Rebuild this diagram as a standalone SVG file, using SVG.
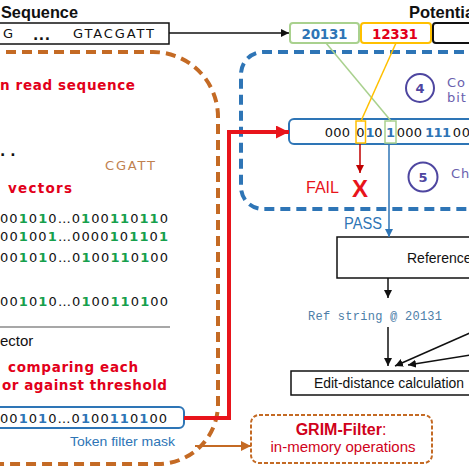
<svg xmlns="http://www.w3.org/2000/svg" width="469" height="469" viewBox="0 0 469 469">
<defs>
<style>
.sans{font-family:"Liberation Sans",Arial,sans-serif}
.dv{font-family:"DejaVu Sans",Verdana,sans-serif}
.mono{font-family:"Liberation Mono","Courier New",monospace}
.redb{font-family:"DejaVu Sans",Verdana,sans-serif;font-weight:bold;fill:#e2001a;font-size:13.5px}
.bits{font-family:"DejaVu Sans",Verdana,sans-serif;font-size:13px;fill:#111}
.g{fill:#16a04c;font-weight:bold}
.b{fill:#2e75b6;font-weight:bold}
.box{fill:#fff;stroke:#111;stroke-width:1.5}
.circ{fill:none;stroke:#4e46a0;stroke-width:2}
.num{font-family:"DejaVu Sans",Verdana,sans-serif;font-size:13px;font-weight:bold;fill:#4e46a0;text-anchor:middle}
.purple{font-family:"DejaVu Sans",Verdana,sans-serif;font-size:13px;fill:#6a5fae;letter-spacing:1px}
</style>
<marker id="aBlack" viewBox="0 0 10 10" refX="10" refY="5" markerWidth="8" markerHeight="8" markerUnits="userSpaceOnUse" orient="auto"><path d="M0,0 L10,5 L0,10 z" fill="#111"/></marker>
<marker id="aBlue" viewBox="0 0 10 10" refX="10" refY="5" markerWidth="8" markerHeight="8" markerUnits="userSpaceOnUse" orient="auto"><path d="M0,0 L10,5 L0,10 z" fill="#2e75b6"/></marker>
<marker id="aDred" viewBox="0 0 10 10" refX="10" refY="5" markerWidth="8" markerHeight="8" markerUnits="userSpaceOnUse" orient="auto"><path d="M0,0 L10,5 L0,10 z" fill="#c00000"/></marker>
<marker id="aRed" viewBox="0 0 10 10" refX="10" refY="5" markerWidth="13" markerHeight="13" markerUnits="userSpaceOnUse" orient="auto"><path d="M0,0 L10,5 L0,10 z" fill="#e8141b"/></marker>
<marker id="aBrown" viewBox="0 0 10 10" refX="10" refY="5" markerWidth="10" markerHeight="10" markerUnits="userSpaceOnUse" orient="auto"><path d="M0,0 L10,5 L0,10 z" fill="#c46a24"/></marker>
</defs>
<rect width="469" height="469" fill="#fff"/>

<g id="region-left">
<path d="M -10 52 H 153 A 65 65 0 0 1 218 117 V 403 A 60 60 0 0 1 158 464 H -10" fill="none" stroke="#c46a24" stroke-width="4" stroke-dasharray="10 6"/>
<text class="redb" x="0" y="90" textLength="135" lengthAdjust="spacing">n read sequence</text>
<text class="dv" x="0" y="156" font-size="14" font-weight="bold" fill="#111">. .</text>
<text class="dv" x="105" y="170" font-size="13" fill="#c0814f" textLength="50" lengthAdjust="spacing">CGATT</text>
<text class="redb" x="8" y="193" textLength="64" lengthAdjust="spacing">vectors</text>
<text class="bits" x="0" y="223" textLength="168" lengthAdjust="spacing">00<tspan class="g">1</tspan>0<tspan class="g">1</tspan>0…0<tspan class="g">1</tspan>00<tspan class="g">11</tspan>0<tspan class="g">11</tspan>0</text>
<text class="bits" x="0" y="241" textLength="168" lengthAdjust="spacing">00<tspan class="g">1</tspan>00<tspan class="g">1</tspan>…0000<tspan class="g">1</tspan>0<tspan class="g">11</tspan>0<tspan class="g">1</tspan></text>
<text class="bits" x="0" y="262" textLength="168" lengthAdjust="spacing">00<tspan class="g">1</tspan>0<tspan class="g">1</tspan>0…0<tspan class="g">1</tspan>00<tspan class="g">11</tspan>0<tspan class="g">1</tspan>00</text>
<text class="bits" x="0" y="306" textLength="168" lengthAdjust="spacing">00<tspan class="g">1</tspan>0<tspan class="g">1</tspan>0…0<tspan class="g">1</tspan>00<tspan class="g">11</tspan>0<tspan class="g">1</tspan>00</text>
<line x1="0" y1="327" x2="170" y2="327" stroke="#8a8a8a" stroke-width="1.5"/>
<text class="sans" x="0" y="346" font-size="15" fill="#111">ector</text>
<text class="redb" x="8" y="372" textLength="130" lengthAdjust="spacing">comparing each</text>
<text class="redb" x="2" y="390" textLength="165" lengthAdjust="spacing">or against threshold</text>
</g>

<g id="token-mask">
<rect x="-10" y="407" width="194" height="21" rx="5" fill="#fff" stroke="#2e75b6" stroke-width="2"/>
<text class="bits" x="0" y="423" textLength="167" lengthAdjust="spacing">00<tspan class="b">1</tspan>0<tspan class="b">1</tspan>0…0<tspan class="b">1</tspan>00<tspan class="b">11</tspan>0<tspan class="b">1</tspan>00</text>
<text class="sans" x="70" y="446" font-size="13.5" fill="#2e75b6" textLength="105" lengthAdjust="spacingAndGlyphs">Token filter mask</text>
</g>

<g id="region-filter">
<path d="M 480 52 H 263 A 22 22 0 0 0 241 74 V 187 A 22 22 0 0 0 263 209 H 480" fill="none" stroke="#2e75b6" stroke-width="4" stroke-dasharray="10 6"/>
<circle class="circ" cx="420" cy="88" r="14"/>
<text class="num" x="420" y="93">4</text>
<text class="purple" x="447" y="87">Co</text>
<text class="purple" x="447" y="102">bit</text>
<circle class="circ" cx="423" cy="177" r="14.5"/>
<text class="num" x="423" y="182">5</text>
<text class="purple" x="451" y="178">Ch</text>
<text class="sans" x="306" y="193" font-size="16" fill="#e8141b" textLength="33" lengthAdjust="spacingAndGlyphs">FAIL</text>
<text class="sans" x="352" y="197" font-size="24" font-weight="bold" fill="#e8141b">X</text>
<text class="sans" x="344" y="229" font-size="16" fill="#2e75b6" textLength="38" lengthAdjust="spacingAndGlyphs">PASS</text>
</g>

<g id="title">
<text class="sans" x="1" y="18" font-size="16.5" font-weight="bold" fill="#111" textLength="77" lengthAdjust="spacingAndGlyphs">Sequence</text>
<text class="sans" x="409" y="18" font-size="16.5" font-weight="bold" fill="#111">Potentia</text>
</g>
<g id="read-seq">
<rect class="box" x="-10" y="23" width="179" height="21"/>
<text class="dv" x="3" y="38" font-size="13" fill="#111">G</text>
<text class="dv" x="33" y="40" font-size="14" font-weight="bold" fill="#111" textLength="17" lengthAdjust="spacing">...</text>
<text class="dv" x="73" y="38" font-size="13" fill="#111" textLength="81" lengthAdjust="spacing">GTACGATT</text>
</g>
<g id="cand-20131">
<rect x="290" y="23" width="69" height="20" rx="3" fill="#fff" stroke="#a9d18e" stroke-width="2"/>
<text class="dv" x="324.5" y="39" font-size="13.5" font-weight="bold" fill="#2e75b6" text-anchor="middle" textLength="46" lengthAdjust="spacing">20131</text>
</g>
<g id="cand-12331">
<rect x="361" y="23" width="70" height="20" rx="3" fill="#fff" stroke="#ffc000" stroke-width="2"/>
<text class="dv" x="395" y="39" font-size="13.5" font-weight="bold" fill="#e2001a" text-anchor="middle" textLength="46" lengthAdjust="spacing">12331</text>
</g>
<g id="cand-next">
<rect x="433" y="23" width="50" height="20" rx="3" fill="#fff" stroke="#111" stroke-width="2"/>
</g>

<g id="bitvector">
<rect x="289" y="119" width="200" height="25" rx="5" fill="#fff" stroke="#2e75b6" stroke-width="2"/>
<rect x="356" y="121" width="9.5" height="22" fill="none" stroke="#ffc000" stroke-width="1.5"/>
<rect x="385" y="121" width="11" height="22" fill="none" stroke="#a9d18e" stroke-width="1.5"/>
<text class="bits" y="137" text-anchor="middle"><tspan x="329">0</tspan><tspan x="337.5">0</tspan><tspan x="346">0</tspan><tspan x="360.5">0</tspan><tspan x="370" class="b">1</tspan><tspan x="378.5">0</tspan><tspan x="390.5" class="b">1</tspan><tspan x="401">0</tspan><tspan x="409.5">0</tspan><tspan x="418">0</tspan><tspan x="429.5" class="b">1</tspan><tspan x="438" class="b">1</tspan><tspan x="446.5" class="b">1</tspan><tspan x="457">0</tspan><tspan x="466">0</tspan></text>
</g>

<g id="ref-box">
<rect class="box" x="337" y="237" width="150" height="41"/>
<text class="sans" x="407" y="263" font-size="14" fill="#111">Reference</text>
</g>
<g id="ref-string">
<text class="mono" x="308" y="320" font-size="12" fill="#4d7ea8" textLength="134" lengthAdjust="spacing">Ref string @ 20131</text>
</g>
<g id="edit-box">
<rect class="box" x="291" y="371" width="190" height="24"/>
<text class="sans" x="314" y="388" font-size="14" fill="#111" textLength="150" lengthAdjust="spacingAndGlyphs">Edit-distance calculation</text>
</g>
<g id="grim-box">
<rect x="251" y="415" width="181" height="48" rx="8" fill="#fff" stroke="#c46a24" stroke-width="2" stroke-dasharray="4 2"/>
<text class="sans" x="341" y="435" font-size="16" text-anchor="middle" fill="#d0021b"><tspan font-weight="bold">GRIM-Filter</tspan>:</text>
<text class="sans" x="343" y="452" font-size="15" text-anchor="middle" fill="#d0021b">in-memory operations</text>
</g>

<g id="connectors" fill="none">
<line x1="169" y1="33" x2="289" y2="33" stroke="#111" stroke-width="1.5" marker-end="url(#aBlack)"/>
<line x1="326" y1="43" x2="391" y2="121" stroke="#a9d18e" stroke-width="1.5"/>
<line x1="396" y1="43" x2="361" y2="121" stroke="#ffc000" stroke-width="1.5"/>
<polyline points="184,418 229,418 229,132 289,132" stroke="#e8141b" stroke-width="4" marker-end="url(#aRed)"/>
<line x1="360" y1="144" x2="360" y2="173" stroke="#c00000" stroke-width="1.5" marker-end="url(#aDred)"/>
<line x1="389" y1="144" x2="389" y2="237" stroke="#2e75b6" stroke-width="1.5" marker-end="url(#aBlue)"/>
<line x1="388" y1="278" x2="388" y2="298" stroke="#111" stroke-width="1.5" marker-end="url(#aBlack)"/>
<line x1="388" y1="327" x2="388" y2="366" stroke="#111" stroke-width="1.5" marker-end="url(#aBlack)"/>
<line x1="470" y1="333" x2="395" y2="366" stroke="#111" stroke-width="1.5" marker-end="url(#aBlack)"/>
<line x1="470" y1="355" x2="408" y2="365" stroke="#111" stroke-width="1.5" marker-end="url(#aBlack)"/>
<line x1="195" y1="446" x2="251" y2="446" stroke="#c46a24" stroke-width="2" marker-end="url(#aBrown)"/>
</g>
</svg>
